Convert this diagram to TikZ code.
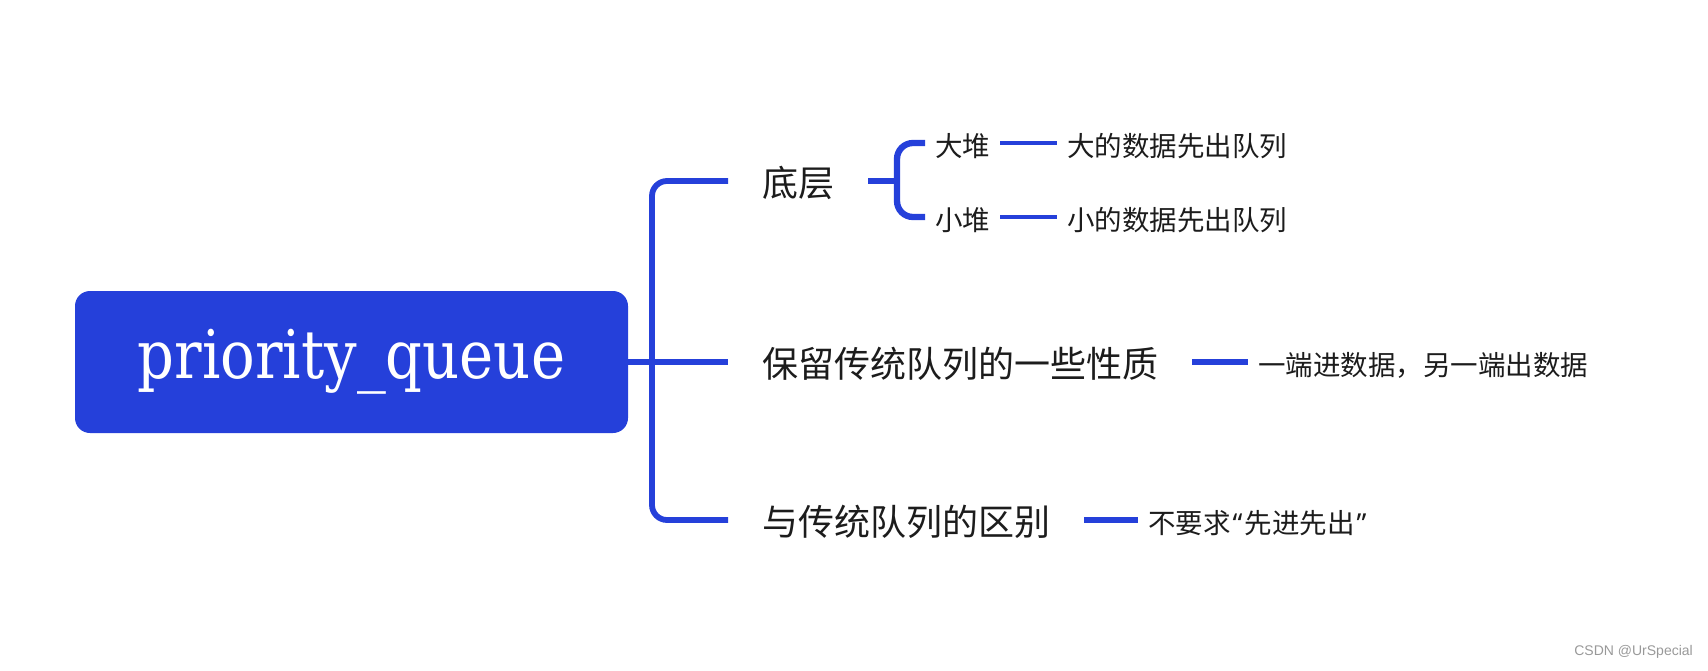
\documentclass[tikz,border=0pt]{standalone}
\usepackage{fontspec}
\setmainfont{Noto Sans CJK SC}
\newfontfamily\seriffont{DejaVu Serif}
\newfontfamily\wmfont{Liberation Sans}
\newfontfamily\quotefont{Noto Sans}
\definecolor{mblue}{RGB}{37,64,218}
\definecolor{txt}{RGB}{28,28,28}
\begin{document}
\begin{tikzpicture}[x=1pt,y=-1pt,
  conn/.style={draw=mblue,line width=5.8pt},
  thinconn/.style={draw=mblue,line width=4.2pt},
  brk/.style={draw=mblue,line width=6.3pt,rounded corners=16pt},
  lvone/.style={anchor=west,inner xsep=34pt,inner ysep=0pt,text height=31pt,text depth=1pt,font=\fontsize{36}{40}\selectfont,text=txt},
  lvtwo/.style={anchor=west,inner xsep=10pt,inner ysep=0pt,text height=26pt,text depth=0pt,font=\fontsize{27.5}{32}\selectfont,text=txt},
  rootbox/.style={fill=mblue,rounded corners=15pt,minimum width=553pt,minimum height=142pt,inner sep=0pt,text=white},
]
\useasboundingbox (0,0) rectangle (1708,670);
\node[rootbox] (root) at (351.5,362) {\scalebox{0.86}[1]{\seriffont\fontsize{67}{70}\selectfont priority\_queue}};
% level one
\node[lvone] (n1) at (728,181) {底层};
\node[lvone] (n2) at (728,362) {保留传统队列的一些性质};
\node[lvone] (n3) at (728,520) {与传统队列的区别};
\coordinate (trunk) at (652,362);
\draw[conn] (root.east) -- (n2.west);
\draw[conn,rounded corners=15pt] (n1.west) -| (trunk) |- (n3.west);
% under 底层
\coordinate (br) at (897,181);
\node[lvtwo] (a1) at (925,143) {大堆};
\node[lvtwo] (a2) at (925,217) {小堆};
\draw[conn] (n1.east) -- (br);
\draw[brk] (a1.west) -| (br) |- (a2.west);
\node[lvtwo] (b1) at (1057,143) {大的数据先出队列};
\node[lvtwo] (b2) at (1057,217) {小的数据先出队列};
\draw[thinconn] (a1.east) -- (b1.west);
\draw[thinconn] (a2.east) -- (b2.west);
% other leaves
\node[lvtwo] (c2) at (1248,362) {一端进数据，另一端出数据};
\node[lvtwo] (c3) at (1138,520) {不要求\kern2pt{\quotefont “}\kern2pt 先进先出\kern2pt{\quotefont ”}};
\draw[conn] (n2.east) -- (c2.west);
\draw[conn] (n3.east) -- (c3.west);
% watermark
\node[anchor=east,inner sep=0pt,font=\wmfont\fontsize{14}{16}\selectfont,text=black!40] (wm) at (1693,652) {CSDN @UrSpecial};
\end{tikzpicture}
\end{document}
